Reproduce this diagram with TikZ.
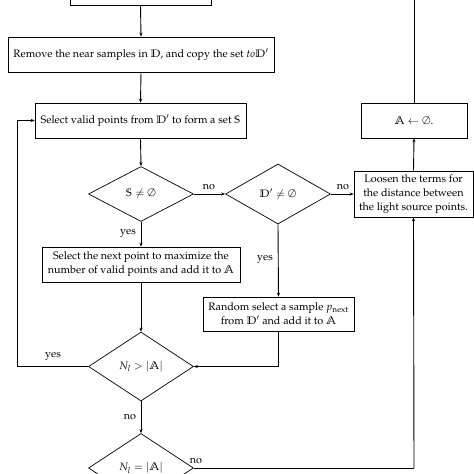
\documentclass[tikz,border=0pt]{standalone}
\usepackage[T1]{fontenc}
\usepackage{amssymb}
\usepackage{mathpazo}
\usetikzlibrary{shapes.geometric,arrows.meta}
\begin{document}
\begin{tikzpicture}[x=1pt,y=-1pt,
  every node/.style={font=\fontsize{10.8}{14}\selectfont},
  procbox/.style={draw,rectangle,inner sep=0pt,align=center,line width=0.7pt},
  decision/.style={draw,diamond,aspect=1.5,inner sep=0pt,line width=0.7pt},
  flow/.style={-{Stealth[length=4pt,width=3.2pt]},line width=0.9pt},
  plain/.style={line width=0.9pt},
  lbl/.style={inner sep=1pt}]
\useasboundingbox (0,0) rectangle (474,474);
\clip (0,0) rectangle (474,474);
\node[procbox,minimum width=141pt,minimum height=30pt] (top) at (140.5,-10) {};
\node[procbox,minimum width=266pt,minimum height=35pt] (rm) at (141,54.5) {Remove the near samples in $\mathbb{D}$, and copy the set $to\mathbb{D}'$};
\node[procbox,minimum width=211pt,minimum height=35pt] (sel) at (140.5,120.5) {Select valid points from $\mathbb{D}'$ to form a set $\mathbb{S}$};
\node[procbox,minimum width=106pt,minimum height=35pt] (boxA) at (414,120.5) {$\mathbb{A}\leftarrow\emptyset$.};
\node[decision,minimum width=105pt,minimum height=55pt] (d1) at (141,194) {$\mathbb{S}\neq\emptyset$};
\node[decision,minimum width=105pt,minimum height=60pt] (d2) at (278,194) {$\mathbb{D}'\neq\emptyset$};
\node[procbox,minimum width=119pt,minimum height=46pt] (loosen) at (413.5,194) {Loosen the terms for\\the distance between\\the light source points.};
\node[procbox,minimum width=198pt,minimum height=35pt] (next) at (141,264.5) {Select the next point to maximize the\\number of valid points and add it to $\mathbb{A}$};
\node[procbox,minimum width=151pt,minimum height=34pt] (random) at (278.5,314) {Random select a sample $p_{\mathrm{next}}$\\from $\mathbb{D}'$ and add it to $\mathbb{A}$};
\node[decision,minimum width=105pt,minimum height=69pt] (d3) at (141,366.5) {$N_l>|\mathbb{A}|$};
\node[decision,minimum width=105pt,minimum height=69pt] (d4) at (141,468) {$N_l=|\mathbb{A}|$};
\coordinate (lt) at (17,366.5);
\coordinate (upA) at (414,-5);
\coordinate (br) at (414,468);
\draw[flow] (top.south) -- (rm.north);
\draw[flow] (rm.south) -- (sel.north);
\draw[flow] (sel.south) -- (d1.north);
\draw[flow] (d1.east) -- (d2.west);
\draw[flow] (d2.east) -- (loosen.west);
\draw[flow] (d1.south) -- (next.north);
\draw[flow] (d2.south) -- (random.north);
\draw[flow] (next.south) -- (d3.north);
\draw[flow] (random.south) |- (d3.east);
\draw[plain] (d3.west) -- (lt);
\draw[flow] (lt) |- (sel.west);
\draw[flow] (d3.south) -- (d4.north);
\draw[plain] (d4.east) -- (br);
\draw[flow] (br) -- (loosen.south);
\draw[flow] (loosen.north) -- (boxA.south);
\draw[plain] (boxA.north) -- (upA);
\node[lbl] (n1) at (209,187) {no};
\node[lbl] (n2) at (343,187) {no};
\node[lbl] (y1) at (128,233) {yes};
\node[lbl] (y2) at (265,259) {yes};
\node[lbl] (y3) at (53,356) {yes};
\node[lbl] (n3) at (130,417) {no};
\node[lbl] (n4) at (196,461) {no};
\end{tikzpicture}
\end{document}
